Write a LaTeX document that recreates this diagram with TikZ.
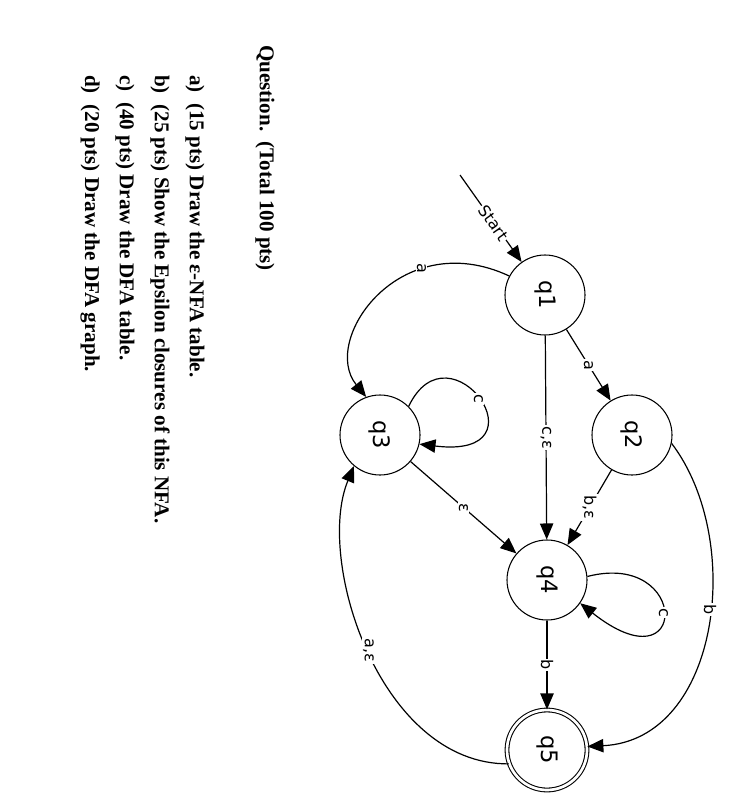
\documentclass[tikz,border=0pt]{standalone}
\usepackage{fontspec}
\setmainfont{DejaVu Sans}
\newfontfamily\qfont{Liberation Serif}
\usetikzlibrary{arrows.meta}
\newcommand{\rt}[1]{\rotatebox{-90}{#1}}
\begin{document}
\begin{tikzpicture}[x=0.75pt,y=-0.75pt,
  st/.style={circle,draw,line width=0.8pt,minimum size=60pt,inner sep=0pt,font=\fontsize{17}{17}\selectfont},
  ed/.style={-{Triangle[length=12pt,width=10pt]},line width=0.9pt},
  lb/.style={fill=white,inner sep=1pt,font=\fontsize{12}{12}\selectfont,rotate=-90},
  qt/.style={anchor=west,rotate=-90,font=\qfont\bfseries\fontsize{15.8}{15.8}\selectfont,inner sep=0pt}]
\useasboundingbox (0,0) rectangle (745,810);
\node[qt] (t0) at (265,45) {Question.\ \ (Total 100 pts)};
\node[qt] (t1) at (195,75) {a)\ \ (15 pts) Draw the ε-NFA table.};
\node[qt] (t2) at (160,75) {b)\ \ (25 pts) Show the Epsilon closures of this NFA.};
\node[qt] (t3) at (125,75) {c)\ \ (40 pts) Draw the DFA table.};
\node[qt] (t4) at (90,75) {d)\ \ (20 pts) Draw the DFA graph.};
\node[st] (q1) at (545,295) {\rt{q1}};
\node[st] (q2) at (632,435) {\rt{q2}};
\node[st] (q3) at (380,435) {\rt{q3}};
\node[st] (q4) at (547,580) {\rt{q4}};
\node[st,double,double distance=2pt] (q5) at (547,750) {\rt{q5}};
\coordinate (s) at (460,175);
\draw[ed] (s) -- node[fill=white,inner sep=1pt,font=\fontsize{12}{12}\selectfont,sloped,allow upside down,pos=0.55] {Start} (q1);
\draw[ed] (q1) -- node[lb] {a} (q2);
\draw[ed] (q1) -- node[lb] {c,ε} (q4);
\draw[ed] (q2) -- node[lb] {b,ε} (q4);
\draw[ed] (q3) -- node[lb] {ε} (q4);
\draw[ed] (q4) -- node[lb] {b} (q5);
\draw[ed] (q1.152) .. controls (400,225) and (320,340) .. node[lb,pos=0.3] {a} (q3.110);
\draw[ed] (q2.-12) .. controls (745,540) and (720,740) .. node[lb,pos=0.45] {b} (q5.5);
\draw[ed] (q5.-160) .. controls (380,765) and (315,560) .. node[lb,pos=0.5] {a,ε} (q3.-130);
\draw[ed] (q3.45) .. controls (450,320) and (550,460) .. node[lb,pos=0.5] {c} (q3.-13);
\draw[ed] (q4.5) .. controls (690,550) and (690,690) .. node[lb,pos=0.5] {c} (q4.-35);
\end{tikzpicture}
\end{document}
